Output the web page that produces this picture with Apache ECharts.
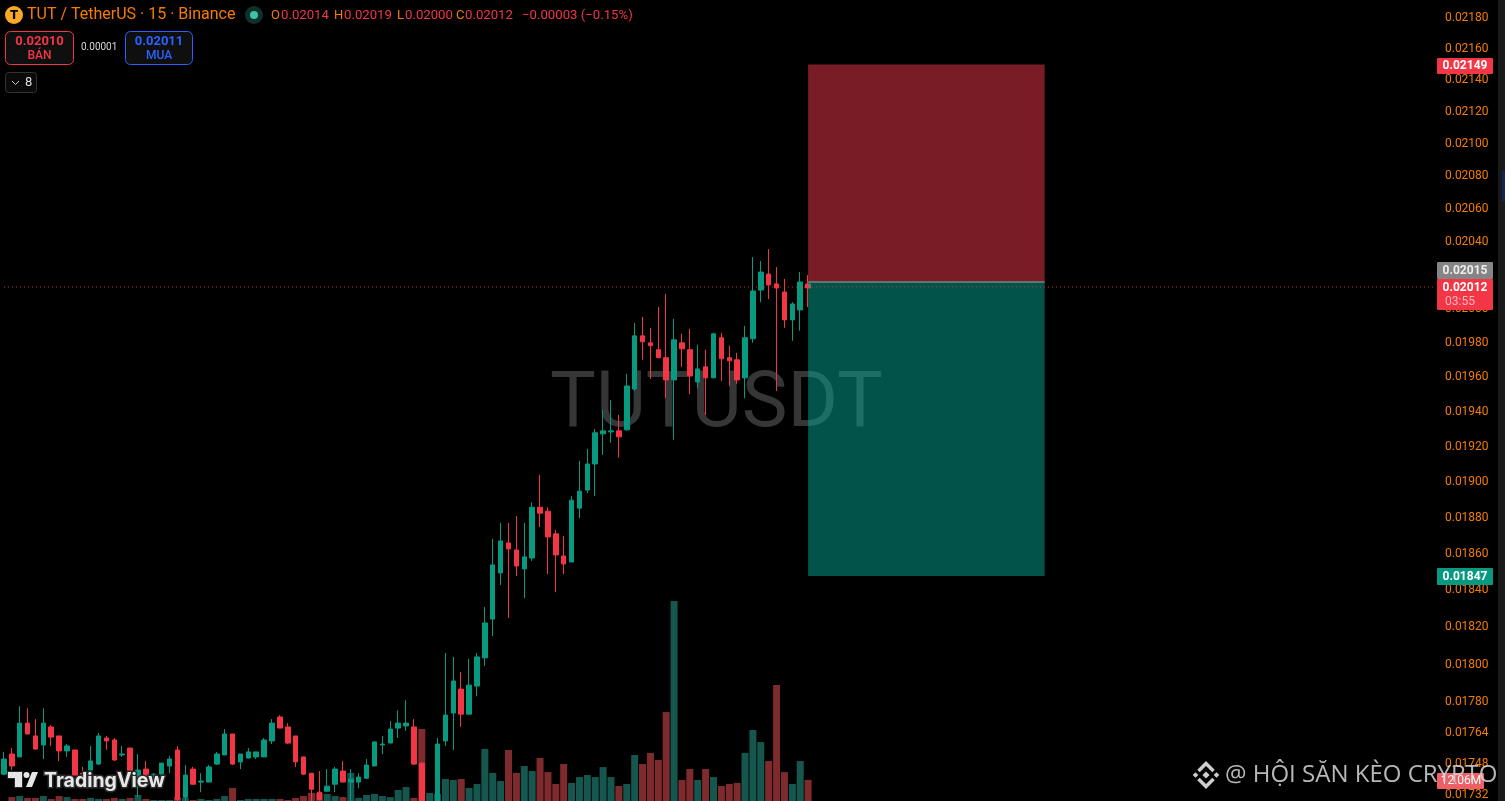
<!DOCTYPE html>
<html><head><meta charset="utf-8">
<style>html,body{margin:0;padding:0;background:#000;overflow:hidden}#c{width:1505px;height:801px}</style>
<script src="https://cdn.jsdelivr.net/npm/echarts@6/dist/echarts.min.js"></script>
</head><body><div id="c"></div>
<script>
// Prices in millionths of USDT
const priceUnit = 1e-6;
const opens = [
17418,17522,17507,17683,17616,17569,17663,17616,17538,17543,
17423,17439,17470,17605,17595,17517,17553,17397,17444,17403,
17418,17460,17543,17299,17444,17377,17377,17470,17517,17626,
17481,17501,17507,17507,17590,17715,17663,17616,17507,17423,
17325,17330,17366,17434,17377,17377,17397,17460,17569,17579,
17657,17668,17663,17475,17220,17257,17590,17736,17862,17730,
17878,18028,18236,18487,18652,18613,18509,18569,18850,18828,
18702,18580,18547,18845,18946,19093,19264,19275,19281,19287,
19521,19831,19790,19750,19703,19574,19790,19750,19562,19650,
19586,19820,19703,19691,19586,19814,20102,20197,20138,20090,
19925,19984,20138];
const highs = [
17533,17553,17772,17761,17704,17761,17673,17616,17574,17543,
17455,17564,17631,17616,17605,17564,17553,17522,17486,17423,
17475,17512,17564,17465,17455,17423,17465,17533,17652,17626,
17522,17553,17533,17605,17704,17725,17683,17616,17507,17423,
17434,17444,17455,17486,17444,17423,17496,17585,17616,17694,
17751,17803,17704,17475,17241,17605,18054,18033,17953,18022,
18054,18301,18674,18762,18762,18801,18762,18878,19031,18850,
18724,18691,18912,19111,19179,19292,19400,19457,19372,19609,
19907,19943,19878,20001,20078,19931,19843,19872,19779,19750,
19849,19849,19773,19732,19890,20299,20275,20347,20239,20168,
20030,20209,20191];
const lows = [
17413,17439,17507,17626,17543,17496,17564,17486,17507,17413,
17387,17429,17465,17543,17486,17507,17429,17299,17361,17387,
17397,17423,17278,17278,17366,17325,17377,17465,17517,17465,
17444,17501,17496,17507,17574,17657,17574,17455,17413,17278,
17283,17330,17325,17377,17278,17345,17392,17460,17522,17579,
17605,17642,17465,17241,17200,17241,17564,17543,17663,17730,
17824,17985,18145,18421,18242,18470,18349,18553,18740,18481,
18382,18481,18547,18790,18929,18912,19145,19213,19128,19281,
19510,19691,19580,19703,19469,19230,19650,19492,19527,19372,
19586,19568,19539,19551,19469,19790,20030,20048,19510,19878,
19802,19861,20001];
const closes = [
17496,17460,17683,17626,17548,17683,17610,17538,17564,17413,
17418,17486,17616,17590,17491,17522,17434,17439,17397,17418,
17475,17496,17288,17413,17366,17382,17455,17522,17626,17470,
17522,17533,17533,17595,17683,17657,17579,17481,17418,17340,
17288,17356,17444,17377,17392,17403,17465,17585,17574,17652,
17683,17683,17470,17257,17241,17574,17725,17905,17730,17883,
18033,18215,18531,18663,18619,18525,18575,18850,18817,18685,
18586,18536,18889,18940,19093,19270,19281,19281,19247,19539,
19831,19796,19773,19703,19574,19808,19755,19597,19638,19586,
19843,19697,19685,19574,19820,20096,20209,20132,20114,19925,
20019,20150,20114];
// Volume in millions
const volumes = [
1.9,3.8,4.3,3.4,3.4,4.3,2.9,4.3,3.8,2.9,
2.9,3.4,2.9,2.9,3.4,2.9,3.4,4.8,2.9,2.4,
2.4,2.4,3.8,3.4,2.4,2.9,2.4,2.9,4.3,8.2,
2.4,2.9,2.9,2.9,2.9,2.9,2.4,3.4,4.3,5.8,
5.8,5.3,4.3,3.8,15.4,3.4,4.8,5.3,4.3,3.8,
7.2,8.6,3.4,36.5,5.8,5.3,12.5,12.0,12.5,8.2,
10.1,26.9,15.4,11.5,26.4,15.4,18.7,16.3,22.6,15.8,
10.1,19.7,10.6,13.4,14.4,13.4,18.2,13.4,9.1,10.1,
24,19.7,25,21.6,44.6,97.9,12,17.3,12,17.3,
13.4,9.1,10.1,10.6,25,36,30.2,21.1,57.6,15.8,
10.1,21.1,12.06];
const tickLabels = [0.0218,0.0216,0.0214,0.0212,0.021,0.0208,0.0206,0.0204,0.0202,0.02,0.0198,0.0196,0.0194,0.0192,0.019,0.0188,0.0186,0.0184,0.0182,0.018,0.0178,0.01764,0.01748,0.01732];
const lastPrice = 0.02012;
const entryPrice = 0.02015, stopPrice = 0.02149, targetPrice = 0.01847;
const boxStart = 101.9, boxEnd = 132.3;
const slotCount = 182;
const categories = Array.from({length: slotCount}, (_, i) => String(i));

const UP='#089981', DOWN='#f23645', UPV='#15574f', DOWNV='#7f2b2e', AX='#f57c00', FONT='Roboto';
const candleData = opens.map((o,i)=>[o,closes[i],lows[i],highs[i]].map(v=>+(v*priceUnit).toFixed(6)));
const volData = volumes.map((v,i)=>({value:v,itemStyle:{color:closes[i]>=opens[i]?UPV:DOWNV}}));

const left=-4.75,width=1439.62;
const chart=echarts.init(document.getElementById('c'),null,{renderer:'canvas'});

function txt(x,y,text,fill,size,extra){return {type:'text',z:100,style:Object.assign({x,y:y+0.8,text,fill,font:(extra&&extra.fw?extra.fw+' ':'')+size+'px '+FONT,textVerticalAlign:'middle',textBaseline:'middle',textAlign:(extra&&extra.align)||'left'},extra&&extra.st||{})};}
function rect(x,y,w,h,fill,r,stroke,z){return {type:'rect',z:z||99,shape:{x,y,width:w,height:h,r:r||0},style:{fill,stroke:stroke||null,lineWidth:stroke?1:0}};}
function diamond(cx,cy,s,fill){return {type:'polygon',z:100,shape:{points:[[cx,cy-s],[cx+s,cy],[cx,cy+s],[cx-s,cy]]},style:{fill}};}

const graphics=[
 // watermark
 {type:'text',z:-1,style:{x:550,y:406.5,text:'TUTUSDT',fill:'#363636',font:'400 77px Roboto',textBaseline:'middle',textVerticalAlign:'middle'}},
 // right strip
 rect(1498,0,7,801,'#1a1a1a',0,null,98),
 rect(1502,171,3,30,'#16264f',0,null,98),
 // header
 {type:'circle',z:100,shape:{cx:14,cy:15,r:9},style:{fill:'#f9a825'}},
 txt(14,15,'T','#000',13,{fw:'900',align:'center'}),
 txt(27,14,'TUT / TetherUS · 15 · Binance',AX,16),
 {type:'circle',z:100,shape:{cx:254,cy:15,r:9},style:{fill:'#10302b'}},
 {type:'circle',z:100,shape:{cx:254,cy:15,r:4},style:{fill:'#3cc2a6'}},
 txt(271,15,'O',AX,13), txt(281,15,'0.02014',DOWN,13.2),
 txt(334,15,'H',AX,13), txt(344,15,'0.02019',DOWN,13.2),
 txt(397,15,'L',AX,13), txt(405,15,'0.02000',DOWN,13.2),
 txt(456,15,'C',AX,13), txt(465,15,'0.02012',DOWN,13.2),
 txt(522,15,'−0.00003 (−0.15%)',DOWN,13.2),
 // buttons
 rect(5.5,31.5,68,33,'#0f0f0f',5,DOWN),
 txt(39.5,40.5,'0.02010',DOWN,13,{fw:'700',align:'center'}),
 txt(39.5,55,'BÁN',DOWN,12,{fw:'500',align:'center'}),
 txt(81,47,'0.00001','#d8d8d8',10),
 rect(125.5,31.5,67,33,'#0f0f0f',5,'#2962ff'),
 txt(159,40.5,'0.02011','#2962ff',13,{fw:'700',align:'center'}),
 txt(159,55,'MUA','#2962ff',12,{fw:'500',align:'center'}),
 rect(5.5,72.5,31,20,'#0a0a0a',3,'#333'),
 {type:'polyline',z:100,shape:{points:[[12,81],[15.5,84.5],[19,81]]},style:{stroke:'#ccc',lineWidth:1,fill:null}},
 txt(25,82,'8','#ddd',13),
 // price tags
 rect(1437,58,56,16,'#f23645',1), txt(1465,65.5,'0.02149','#fff',12,{fw:'700',align:'center'}),
 rect(1437,262,56,17,'#858585',1), txt(1465,270,'0.02015','#eee',12,{fw:'700',align:'center'}),
 rect(1437,279,56,31,'#f23645',1), txt(1465,287,'0.02012','#fff',12,{fw:'700',align:'center'}),
 txt(1445,301,'03:55','#fbb7bd',12),
 rect(1437,568,56,17,'#089981',1), txt(1465,576,'0.01847','#fff',12,{fw:'700',align:'center'}),
 rect(1437,773,47,16,'#ee5f66',1), txt(1461,780.5,'12.06M','#fff',12,{align:'center'}),
 // TradingView logo
 {type:'polygon',z:100,shape:{points:[[8,772],[22,772],[22,787],[15,787],[15,778],[8,778]]},style:{fill:'#e6e6e6',stroke:'#2a2a2a',lineWidth:2,strokeFirst:true}},
 {type:'circle',z:100,shape:{cx:26.5,cy:775,r:3},style:{fill:'#e6e6e6'}},
 {type:'polygon',z:100,shape:{points:[[32,772],[38,772],[32,787],[26,787]]},style:{fill:'#e6e6e6'}},
 {type:'text',z:100,style:{x:44,y:781,text:'TradingView',fill:'#e8e8e8',stroke:'#2a2a2a',lineWidth:3,font:'700 19.5px Inter',textBaseline:'middle',textVerticalAlign:'middle'}},
 // channel mark
 {type:'polyline',z:100,shape:{points:[[1198.5,771],[1206,763.5],[1213.5,771]]},style:{stroke:'#cfcfcf',lineWidth:3.5,fill:null}},
 diamond(1195.5,775,2.8,'#cfcfcf'),diamond(1216.5,775,2.8,'#cfcfcf'),diamond(1206,775,3.6,'#cfcfcf'),
 {type:'polyline',z:100,shape:{points:[[1198.5,779],[1206,786.5],[1213.5,779]]},style:{stroke:'#cfcfcf',lineWidth:3.5,fill:null}},
 {type:'text',z:101,style:{x:1225,y:775,text:'@ HỘI SĂN KÈO CRYPTO',fill:'rgba(215,215,215,0.85)',font:'400 24px "Open Sans"',textBaseline:'middle',textVerticalAlign:'middle'}}
];

chart.setOption({
 animation:false,backgroundColor:'#000',
 grid:[{left,width,top:0,height:801},{left,width,top:0,height:801}],
 xAxis:[
  {type:'category',data:categories,gridIndex:0,show:false},
  {type:'category',data:categories,gridIndex:1,show:false}],
 yAxis:[
  {type:'log',gridIndex:0,position:'right',scale:true,
   min:0.01728,max:0.021904,logBase:10,axisLine:{show:false},axisTick:{show:false},splitLine:{show:false},minorTick:{show:false},
   axisLabel:{show:true,customValues:tickLabels,margin:10.1,color:AX,fontSize:12,fontFamily:FONT,
    formatter:v=>'{t|'+(+v).toFixed(5)+'}',rich:{t:{color:AX,fontSize:12,fontFamily:FONT,padding:[3,0,0,0]}},
    showMinLabel:true,showMaxLabel:true,hideOverlap:false}},
  {type:'value',gridIndex:1,min:1.92,max:386.4,show:false}],
 series:[
  {type:'bar',name:'Volume',xAxisIndex:1,yAxisIndex:1,data:volData,barWidth:7,z:1,silent:true},
  {type:'candlestick',name:'TUTUSDT',xAxisIndex:0,yAxisIndex:0,data:candleData,barWidth:5,z:2,
   itemStyle:{color:UP,color0:DOWN,borderColor:UP,borderColor0:DOWN,borderWidth:1}},
  {type:'line',name:'Position',xAxisIndex:0,yAxisIndex:0,data:[],z:3,silent:true,
   markArea:{silent:true,z:3,label:{show:false},data:[
    [{xAxis:boxStart,yAxis:stopPrice,itemStyle:{color:'rgba(244,56,74,0.5)'}},{xAxis:boxEnd,yAxis:entryPrice}],
    [{xAxis:boxStart,yAxis:entryPrice,itemStyle:{color:'rgba(4,166,148,0.5)'}},{xAxis:boxEnd,yAxis:targetPrice}]
   ]}},
  {type:'line',name:'Entry',xAxisIndex:0,yAxisIndex:0,z:4,silent:true,showSymbol:false,symbol:'none',
   lineStyle:{color:'#6a8a84',width:1.5},data:[[boxStart,entryPrice],[boxEnd,entryPrice]]},
  {type:'line',name:'Last',xAxisIndex:0,yAxisIndex:0,z:5,silent:true,showSymbol:false,symbol:'none',
   lineStyle:{color:'#f23645',width:1,type:[1,3],opacity:.85},data:[[-0.5,lastPrice],[slotCount-0.5,lastPrice]]}
 ],
 graphic:{elements:graphics}
});
</script></body></html>
